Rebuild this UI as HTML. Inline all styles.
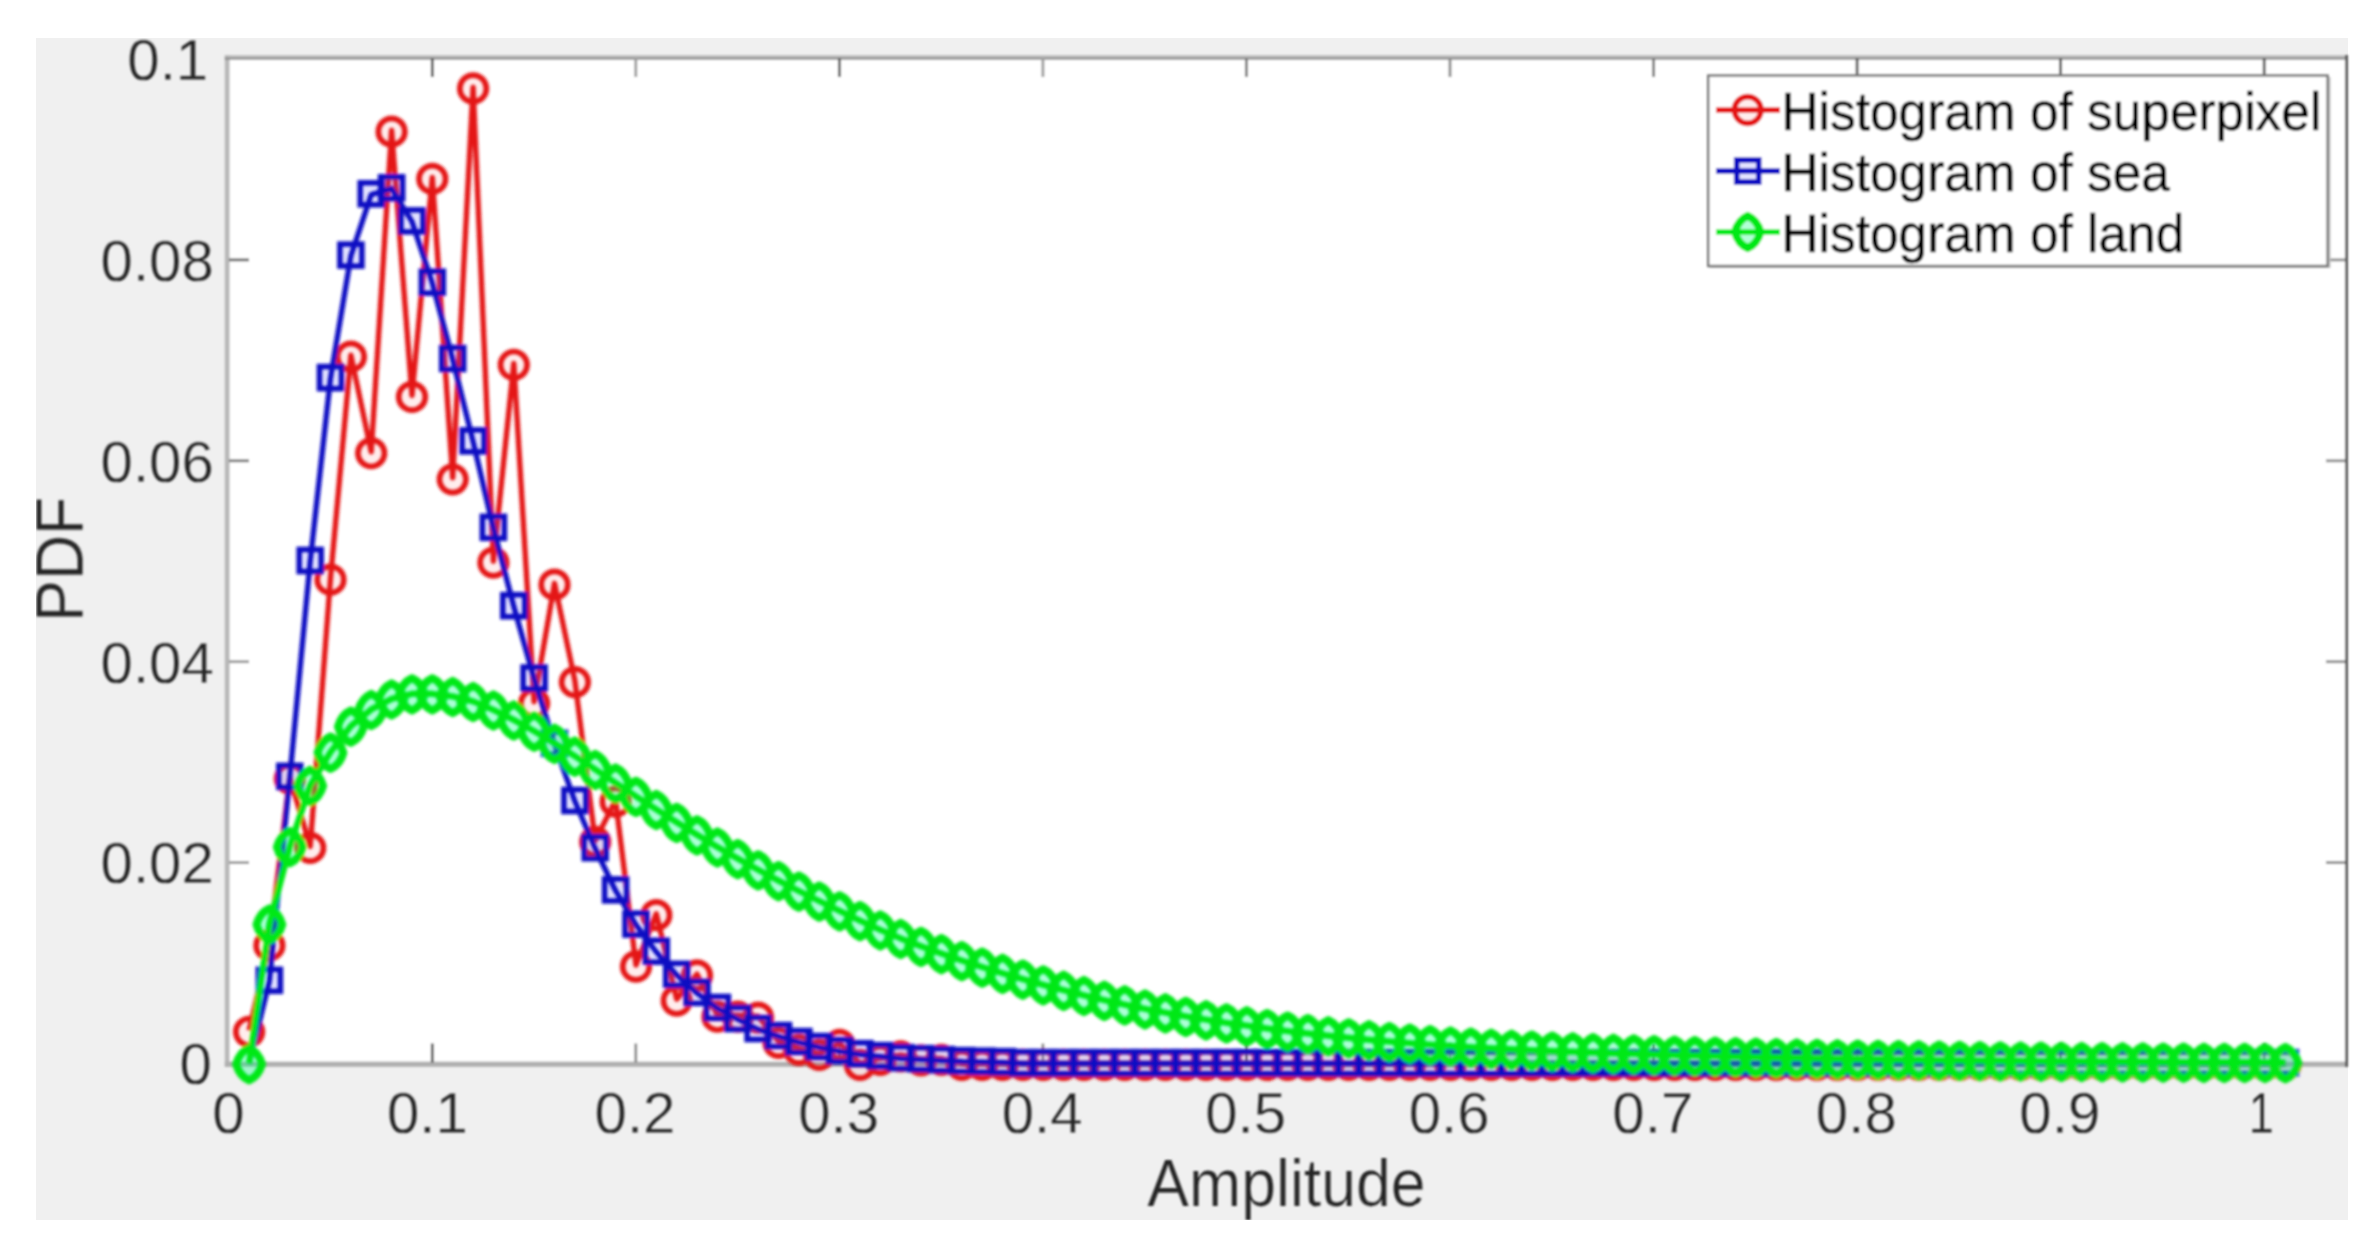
<!DOCTYPE html>
<html><head><meta charset="utf-8"><title>Histogram PDF plot</title>
<style>
html,body{margin:0;padding:0;background:#fff;}
body{width:2374px;height:1250px;overflow:hidden;}
svg{display:block;}
text{font-family:"Liberation Sans",sans-serif;}
.tick{font-size:56.5px;fill:#282828;stroke:#f0f0f0;stroke-width:0.25px;}
.lab{font-size:62.6px;fill:#282828;stroke:#f0f0f0;stroke-width:0.2px;}
.leg{font-size:51.4px;fill:#000;stroke:#000;stroke-width:0.5px;}
</style></head><body>
<svg width="2374" height="1250" viewBox="0 0 2374 1250">
<defs><filter id="soft" x="-2%" y="-2%" width="104%" height="104%"><feGaussianBlur stdDeviation="1.0"/></filter>
<filter id="soft2" x="-2%" y="-2%" width="104%" height="104%"><feGaussianBlur stdDeviation="1.7"/></filter>
<clipPath id="figclip"><rect x="36" y="38" width="2312" height="1182"/></clipPath></defs>
<rect x="0" y="0" width="2374" height="1250" fill="#ffffff"/>
<rect x="36" y="38" width="2312" height="1182" fill="#f0f0f0"/>
<g filter="url(#soft)">
<rect x="229" y="59" width="2118" height="1004" fill="#ffffff"/>

<rect x="224.8" y="55" width="4.8" height="1012" fill="#b8b8b8"/>
<rect x="224.8" y="1061.6" width="2123" height="5.2" fill="#b0b0b0"/>
<rect x="224.8" y="55.2" width="2123" height="2.4" fill="#bcbcbc"/>
<rect x="224.8" y="57.5" width="2123" height="2.2" fill="#8a8a8a"/>
<rect x="2345" y="55" width="3" height="1012" fill="#5c5c5c"/>
<rect x="430.9" y="58" width="2.8" height="19" fill="#555"/>
<rect x="430.9" y="1043.5" width="2.8" height="19" fill="#555"/>
<rect x="634.4" y="58" width="2.8" height="19" fill="#9a9a9a"/>
<rect x="634.4" y="1043.5" width="2.8" height="19" fill="#8a8a8a"/>
<rect x="838.0" y="58" width="2.8" height="19" fill="#5a5a5a"/>
<rect x="838.0" y="1043.5" width="2.8" height="19" fill="#555"/>
<rect x="1041.5" y="58" width="2.8" height="19" fill="#9a9a9a"/>
<rect x="1041.5" y="1043.5" width="2.8" height="19" fill="#8a8a8a"/>
<rect x="1245.0" y="58" width="2.8" height="19" fill="#777"/>
<rect x="1245.0" y="1043.5" width="2.8" height="19" fill="#555"/>
<rect x="1448.6" y="58" width="2.8" height="19" fill="#888"/>
<rect x="1448.6" y="1043.5" width="2.8" height="19" fill="#8a8a8a"/>
<rect x="1652.2" y="58" width="2.8" height="19" fill="#777"/>
<rect x="1652.2" y="1043.5" width="2.8" height="19" fill="#555"/>
<rect x="1855.7" y="58" width="2.8" height="19" fill="#555"/>
<rect x="1855.7" y="1043.5" width="2.8" height="19" fill="#8a8a8a"/>
<rect x="2059.2" y="58" width="2.8" height="19" fill="#555"/>
<rect x="2059.2" y="1043.5" width="2.8" height="19" fill="#555"/>
<rect x="2262.8" y="58" width="2.8" height="19" fill="#555"/>
<rect x="2262.8" y="1043.5" width="2.8" height="19" fill="#8a8a8a"/>
<rect x="229" y="861.2" width="20" height="2.8" fill="#999"/>
<rect x="2326" y="861.2" width="19" height="2.8" fill="#8c8c8c"/>
<rect x="229" y="660.3" width="20" height="2.8" fill="#999"/>
<rect x="2326" y="660.3" width="19" height="2.8" fill="#8c8c8c"/>
<rect x="229" y="459.4" width="20" height="2.8" fill="#777"/>
<rect x="2326" y="459.4" width="19" height="2.8" fill="#8c8c8c"/>
<rect x="229" y="258.5" width="20" height="2.8" fill="#666"/>
<rect x="2326" y="258.5" width="19" height="2.8" fill="#8c8c8c"/>
</g>
<g filter="url(#soft2)" clip-path="url(#figclip)">
<circle cx="249.1" cy="1031.8" r="13.3" fill="#ff5050" fill-opacity="0.10" stroke="#e41616" stroke-width="5.7"/>
<circle cx="269.4" cy="945.4" r="13.3" fill="#ff5050" fill-opacity="0.10" stroke="#e41616" stroke-width="5.7"/>
<circle cx="289.8" cy="778.6" r="13.3" fill="#ff5050" fill-opacity="0.10" stroke="#e41616" stroke-width="5.7"/>
<circle cx="310.2" cy="847.9" r="13.3" fill="#ff5050" fill-opacity="0.10" stroke="#e41616" stroke-width="5.7"/>
<circle cx="330.5" cy="579.7" r="13.3" fill="#ff5050" fill-opacity="0.10" stroke="#e41616" stroke-width="5.7"/>
<circle cx="350.9" cy="356.7" r="13.3" fill="#ff5050" fill-opacity="0.10" stroke="#e41616" stroke-width="5.7"/>
<circle cx="371.2" cy="453.2" r="13.3" fill="#ff5050" fill-opacity="0.10" stroke="#e41616" stroke-width="5.7"/>
<circle cx="391.6" cy="131.7" r="13.3" fill="#ff5050" fill-opacity="0.10" stroke="#e41616" stroke-width="5.7"/>
<circle cx="412.0" cy="396.9" r="13.3" fill="#ff5050" fill-opacity="0.10" stroke="#e41616" stroke-width="5.7"/>
<circle cx="432.3" cy="178.9" r="13.3" fill="#ff5050" fill-opacity="0.10" stroke="#e41616" stroke-width="5.7"/>
<circle cx="452.7" cy="479.3" r="13.3" fill="#ff5050" fill-opacity="0.10" stroke="#e41616" stroke-width="5.7"/>
<circle cx="473.1" cy="88.5" r="13.3" fill="#ff5050" fill-opacity="0.10" stroke="#e41616" stroke-width="5.7"/>
<circle cx="493.4" cy="562.6" r="13.3" fill="#ff5050" fill-opacity="0.10" stroke="#e41616" stroke-width="5.7"/>
<circle cx="513.8" cy="364.8" r="13.3" fill="#ff5050" fill-opacity="0.10" stroke="#e41616" stroke-width="5.7"/>
<circle cx="534.1" cy="703.3" r="13.3" fill="#ff5050" fill-opacity="0.10" stroke="#e41616" stroke-width="5.7"/>
<circle cx="554.5" cy="584.7" r="13.3" fill="#ff5050" fill-opacity="0.10" stroke="#e41616" stroke-width="5.7"/>
<circle cx="574.9" cy="682.2" r="13.3" fill="#ff5050" fill-opacity="0.10" stroke="#e41616" stroke-width="5.7"/>
<circle cx="595.2" cy="841.9" r="13.3" fill="#ff5050" fill-opacity="0.10" stroke="#e41616" stroke-width="5.7"/>
<circle cx="615.6" cy="801.7" r="13.3" fill="#ff5050" fill-opacity="0.10" stroke="#e41616" stroke-width="5.7"/>
<circle cx="636.0" cy="966.5" r="13.3" fill="#ff5050" fill-opacity="0.10" stroke="#e41616" stroke-width="5.7"/>
<circle cx="656.3" cy="915.2" r="13.3" fill="#ff5050" fill-opacity="0.10" stroke="#e41616" stroke-width="5.7"/>
<circle cx="676.7" cy="1000.6" r="13.3" fill="#ff5050" fill-opacity="0.10" stroke="#e41616" stroke-width="5.7"/>
<circle cx="697.0" cy="975.5" r="13.3" fill="#ff5050" fill-opacity="0.10" stroke="#e41616" stroke-width="5.7"/>
<circle cx="717.4" cy="1016.7" r="13.3" fill="#ff5050" fill-opacity="0.10" stroke="#e41616" stroke-width="5.7"/>
<circle cx="737.8" cy="1016.7" r="13.3" fill="#ff5050" fill-opacity="0.10" stroke="#e41616" stroke-width="5.7"/>
<circle cx="758.1" cy="1017.7" r="13.3" fill="#ff5050" fill-opacity="0.10" stroke="#e41616" stroke-width="5.7"/>
<circle cx="778.5" cy="1042.8" r="13.3" fill="#ff5050" fill-opacity="0.10" stroke="#e41616" stroke-width="5.7"/>
<circle cx="798.9" cy="1049.8" r="13.3" fill="#ff5050" fill-opacity="0.10" stroke="#e41616" stroke-width="5.7"/>
<circle cx="819.2" cy="1054.9" r="13.3" fill="#ff5050" fill-opacity="0.10" stroke="#e41616" stroke-width="5.7"/>
<circle cx="839.6" cy="1044.8" r="13.3" fill="#ff5050" fill-opacity="0.10" stroke="#e41616" stroke-width="5.7"/>
<circle cx="860.0" cy="1064.9" r="13.3" fill="#ff5050" fill-opacity="0.10" stroke="#e41616" stroke-width="5.7"/>
<circle cx="880.3" cy="1059.9" r="13.3" fill="#ff5050" fill-opacity="0.10" stroke="#e41616" stroke-width="5.7"/>
<circle cx="900.7" cy="1056.4" r="13.3" fill="#ff5050" fill-opacity="0.10" stroke="#e41616" stroke-width="5.7"/>
<circle cx="921.0" cy="1060.4" r="13.3" fill="#ff5050" fill-opacity="0.10" stroke="#e41616" stroke-width="5.7"/>
<circle cx="941.4" cy="1059.9" r="13.3" fill="#ff5050" fill-opacity="0.10" stroke="#e41616" stroke-width="5.7"/>
<circle cx="961.8" cy="1064.9" r="13.3" fill="#ff5050" fill-opacity="0.10" stroke="#e41616" stroke-width="5.7"/>
<circle cx="982.1" cy="1064.9" r="13.3" fill="#ff5050" fill-opacity="0.10" stroke="#e41616" stroke-width="5.7"/>
<circle cx="1002.5" cy="1064.9" r="13.3" fill="#ff5050" fill-opacity="0.10" stroke="#e41616" stroke-width="5.7"/>
<circle cx="1022.9" cy="1064.9" r="13.3" fill="#ff5050" fill-opacity="0.10" stroke="#e41616" stroke-width="5.7"/>
<circle cx="1043.2" cy="1064.9" r="13.3" fill="#ff5050" fill-opacity="0.10" stroke="#e41616" stroke-width="5.7"/>
<circle cx="1063.6" cy="1064.9" r="13.3" fill="#ff5050" fill-opacity="0.10" stroke="#e41616" stroke-width="5.7"/>
<circle cx="1083.9" cy="1064.9" r="13.3" fill="#ff5050" fill-opacity="0.10" stroke="#e41616" stroke-width="5.7"/>
<circle cx="1104.3" cy="1064.9" r="13.3" fill="#ff5050" fill-opacity="0.10" stroke="#e41616" stroke-width="5.7"/>
<circle cx="1124.7" cy="1064.9" r="13.3" fill="#ff5050" fill-opacity="0.10" stroke="#e41616" stroke-width="5.7"/>
<circle cx="1145.0" cy="1064.9" r="13.3" fill="#ff5050" fill-opacity="0.10" stroke="#e41616" stroke-width="5.7"/>
<circle cx="1165.4" cy="1064.9" r="13.3" fill="#ff5050" fill-opacity="0.10" stroke="#e41616" stroke-width="5.7"/>
<circle cx="1185.8" cy="1064.9" r="13.3" fill="#ff5050" fill-opacity="0.10" stroke="#e41616" stroke-width="5.7"/>
<circle cx="1206.1" cy="1064.9" r="13.3" fill="#ff5050" fill-opacity="0.10" stroke="#e41616" stroke-width="5.7"/>
<circle cx="1226.5" cy="1064.9" r="13.3" fill="#ff5050" fill-opacity="0.10" stroke="#e41616" stroke-width="5.7"/>
<circle cx="1246.8" cy="1064.9" r="13.3" fill="#ff5050" fill-opacity="0.10" stroke="#e41616" stroke-width="5.7"/>
<circle cx="1267.2" cy="1064.9" r="13.3" fill="#ff5050" fill-opacity="0.10" stroke="#e41616" stroke-width="5.7"/>
<circle cx="1287.6" cy="1064.9" r="13.3" fill="#ff5050" fill-opacity="0.10" stroke="#e41616" stroke-width="5.7"/>
<circle cx="1307.9" cy="1064.9" r="13.3" fill="#ff5050" fill-opacity="0.10" stroke="#e41616" stroke-width="5.7"/>
<circle cx="1328.3" cy="1064.9" r="13.3" fill="#ff5050" fill-opacity="0.10" stroke="#e41616" stroke-width="5.7"/>
<circle cx="1348.7" cy="1064.9" r="13.3" fill="#ff5050" fill-opacity="0.10" stroke="#e41616" stroke-width="5.7"/>
<circle cx="1369.0" cy="1064.9" r="13.3" fill="#ff5050" fill-opacity="0.10" stroke="#e41616" stroke-width="5.7"/>
<circle cx="1389.4" cy="1064.9" r="13.3" fill="#ff5050" fill-opacity="0.10" stroke="#e41616" stroke-width="5.7"/>
<circle cx="1409.8" cy="1064.9" r="13.3" fill="#ff5050" fill-opacity="0.10" stroke="#e41616" stroke-width="5.7"/>
<circle cx="1430.1" cy="1064.9" r="13.3" fill="#ff5050" fill-opacity="0.10" stroke="#e41616" stroke-width="5.7"/>
<circle cx="1450.5" cy="1064.9" r="13.3" fill="#ff5050" fill-opacity="0.10" stroke="#e41616" stroke-width="5.7"/>
<circle cx="1470.8" cy="1064.9" r="13.3" fill="#ff5050" fill-opacity="0.10" stroke="#e41616" stroke-width="5.7"/>
<circle cx="1491.2" cy="1064.9" r="13.3" fill="#ff5050" fill-opacity="0.10" stroke="#e41616" stroke-width="5.7"/>
<circle cx="1511.6" cy="1064.9" r="13.3" fill="#ff5050" fill-opacity="0.10" stroke="#e41616" stroke-width="5.7"/>
<circle cx="1531.9" cy="1064.9" r="13.3" fill="#ff5050" fill-opacity="0.10" stroke="#e41616" stroke-width="5.7"/>
<circle cx="1552.3" cy="1064.9" r="13.3" fill="#ff5050" fill-opacity="0.10" stroke="#e41616" stroke-width="5.7"/>
<circle cx="1572.7" cy="1064.9" r="13.3" fill="#ff5050" fill-opacity="0.10" stroke="#e41616" stroke-width="5.7"/>
<circle cx="1593.0" cy="1064.9" r="13.3" fill="#ff5050" fill-opacity="0.10" stroke="#e41616" stroke-width="5.7"/>
<circle cx="1613.4" cy="1064.9" r="13.3" fill="#ff5050" fill-opacity="0.10" stroke="#e41616" stroke-width="5.7"/>
<circle cx="1633.7" cy="1064.9" r="13.3" fill="#ff5050" fill-opacity="0.10" stroke="#e41616" stroke-width="5.7"/>
<circle cx="1654.1" cy="1064.9" r="13.3" fill="#ff5050" fill-opacity="0.10" stroke="#e41616" stroke-width="5.7"/>
<circle cx="1674.5" cy="1064.9" r="13.3" fill="#ff5050" fill-opacity="0.10" stroke="#e41616" stroke-width="5.7"/>
<circle cx="1694.8" cy="1064.9" r="13.3" fill="#ff5050" fill-opacity="0.10" stroke="#e41616" stroke-width="5.7"/>
<circle cx="1715.2" cy="1064.9" r="13.3" fill="#ff5050" fill-opacity="0.10" stroke="#e41616" stroke-width="5.7"/>
<circle cx="1735.6" cy="1064.9" r="13.3" fill="#ff5050" fill-opacity="0.10" stroke="#e41616" stroke-width="5.7"/>
<circle cx="1755.9" cy="1064.9" r="13.3" fill="#ff5050" fill-opacity="0.10" stroke="#e41616" stroke-width="5.7"/>
<circle cx="1776.3" cy="1064.9" r="13.3" fill="#ff5050" fill-opacity="0.10" stroke="#e41616" stroke-width="5.7"/>
<circle cx="1796.7" cy="1064.9" r="13.3" fill="#ff5050" fill-opacity="0.10" stroke="#e41616" stroke-width="5.7"/>
<circle cx="1817.0" cy="1064.9" r="13.3" fill="#ff5050" fill-opacity="0.10" stroke="#e41616" stroke-width="5.7"/>
<circle cx="1837.4" cy="1064.9" r="13.3" fill="#ff5050" fill-opacity="0.10" stroke="#e41616" stroke-width="5.7"/>
<circle cx="1857.7" cy="1064.9" r="13.3" fill="#ff5050" fill-opacity="0.10" stroke="#e41616" stroke-width="5.7"/>
<circle cx="1878.1" cy="1064.9" r="13.3" fill="#ff5050" fill-opacity="0.10" stroke="#e41616" stroke-width="5.7"/>
<circle cx="1898.5" cy="1064.9" r="13.3" fill="#ff5050" fill-opacity="0.10" stroke="#e41616" stroke-width="5.7"/>
<circle cx="1918.8" cy="1064.9" r="13.3" fill="#ff5050" fill-opacity="0.10" stroke="#e41616" stroke-width="5.7"/>
<circle cx="1939.2" cy="1064.9" r="13.3" fill="#ff5050" fill-opacity="0.10" stroke="#e41616" stroke-width="5.7"/>
<circle cx="1959.6" cy="1064.9" r="13.3" fill="#ff5050" fill-opacity="0.10" stroke="#e41616" stroke-width="5.7"/>
<circle cx="1979.9" cy="1064.9" r="13.3" fill="#ff5050" fill-opacity="0.10" stroke="#e41616" stroke-width="5.7"/>
<circle cx="2000.3" cy="1064.9" r="13.3" fill="#ff5050" fill-opacity="0.10" stroke="#e41616" stroke-width="5.7"/>
<circle cx="2020.6" cy="1064.9" r="13.3" fill="#ff5050" fill-opacity="0.10" stroke="#e41616" stroke-width="5.7"/>
<circle cx="2041.0" cy="1064.9" r="13.3" fill="#ff5050" fill-opacity="0.10" stroke="#e41616" stroke-width="5.7"/>
<circle cx="2061.4" cy="1064.9" r="13.3" fill="#ff5050" fill-opacity="0.10" stroke="#e41616" stroke-width="5.7"/>
<circle cx="2081.7" cy="1064.9" r="13.3" fill="#ff5050" fill-opacity="0.10" stroke="#e41616" stroke-width="5.7"/>
<circle cx="2102.1" cy="1064.9" r="13.3" fill="#ff5050" fill-opacity="0.10" stroke="#e41616" stroke-width="5.7"/>
<circle cx="2122.5" cy="1064.9" r="13.3" fill="#ff5050" fill-opacity="0.10" stroke="#e41616" stroke-width="5.7"/>
<circle cx="2142.8" cy="1064.9" r="13.3" fill="#ff5050" fill-opacity="0.10" stroke="#e41616" stroke-width="5.7"/>
<circle cx="2163.2" cy="1064.9" r="13.3" fill="#ff5050" fill-opacity="0.10" stroke="#e41616" stroke-width="5.7"/>
<circle cx="2183.5" cy="1064.9" r="13.3" fill="#ff5050" fill-opacity="0.10" stroke="#e41616" stroke-width="5.7"/>
<circle cx="2203.9" cy="1064.9" r="13.3" fill="#ff5050" fill-opacity="0.10" stroke="#e41616" stroke-width="5.7"/>
<circle cx="2224.3" cy="1064.9" r="13.3" fill="#ff5050" fill-opacity="0.10" stroke="#e41616" stroke-width="5.7"/>
<circle cx="2244.6" cy="1064.9" r="13.3" fill="#ff5050" fill-opacity="0.10" stroke="#e41616" stroke-width="5.7"/>
<circle cx="2265.0" cy="1064.9" r="13.3" fill="#ff5050" fill-opacity="0.10" stroke="#e41616" stroke-width="5.7"/>
<circle cx="2285.4" cy="1064.9" r="13.3" fill="#ff5050" fill-opacity="0.10" stroke="#e41616" stroke-width="5.7"/>
<polyline points="249.1,1030.4 269.4,944.0 289.8,777.2 310.2,846.5 330.5,578.3 350.9,355.3 371.2,451.8 391.6,130.3 412.0,395.5 432.3,177.5 452.7,477.9 473.1,87.1 493.4,561.2 513.8,363.4 534.1,701.9 554.5,583.3 574.9,680.8 595.2,840.5 615.6,800.3 636.0,965.1 656.3,913.8 676.7,999.2 697.0,974.1 717.4,1015.3 737.8,1015.3 758.1,1016.3 778.5,1041.4 798.9,1048.4 819.2,1053.5 839.6,1043.4 860.0,1063.5 880.3,1058.5 900.7,1055.0 921.0,1059.0 941.4,1058.5 961.8,1063.5 982.1,1063.5 1002.5,1063.5 1022.9,1063.5 1043.2,1063.5 1063.6,1063.5 1083.9,1063.5 1104.3,1063.5 1124.7,1063.5 1145.0,1063.5 1165.4,1063.5 1185.8,1063.5 1206.1,1063.5 1226.5,1063.5 1246.8,1063.5 1267.2,1063.5 1287.6,1063.5 1307.9,1063.5 1328.3,1063.5 1348.7,1063.5 1369.0,1063.5 1389.4,1063.5 1409.8,1063.5 1430.1,1063.5 1450.5,1063.5 1470.8,1063.5 1491.2,1063.5 1511.6,1063.5 1531.9,1063.5 1552.3,1063.5 1572.7,1063.5 1593.0,1063.5 1613.4,1063.5 1633.7,1063.5 1654.1,1063.5 1674.5,1063.5 1694.8,1063.5 1715.2,1063.5 1735.6,1063.5 1755.9,1063.5 1776.3,1063.5 1796.7,1063.5 1817.0,1063.5 1837.4,1063.5 1857.7,1063.5 1878.1,1063.5 1898.5,1063.5 1918.8,1063.5 1939.2,1063.5 1959.6,1063.5 1979.9,1063.5 2000.3,1063.5 2020.6,1063.5 2041.0,1063.5 2061.4,1063.5 2081.7,1063.5 2102.1,1063.5 2122.5,1063.5 2142.8,1063.5 2163.2,1063.5 2183.5,1063.5 2203.9,1063.5 2224.3,1063.5 2244.6,1063.5 2265.0,1063.5 2285.4,1063.5" fill="none" stroke="#e41616" stroke-width="5.4" stroke-linejoin="round"/>
<rect x="258.4" y="969.3" width="22.0" height="22.0" fill="#5050ff" fill-opacity="0.16" stroke="#0e0ec2" stroke-width="5.6"/>
<rect x="278.8" y="765.4" width="22.0" height="22.0" fill="#5050ff" fill-opacity="0.16" stroke="#0e0ec2" stroke-width="5.6"/>
<rect x="299.2" y="549.5" width="22.0" height="22.0" fill="#5050ff" fill-opacity="0.16" stroke="#0e0ec2" stroke-width="5.6"/>
<rect x="319.5" y="366.6" width="22.0" height="22.0" fill="#5050ff" fill-opacity="0.16" stroke="#0e0ec2" stroke-width="5.6"/>
<rect x="339.9" y="244.1" width="22.0" height="22.0" fill="#5050ff" fill-opacity="0.16" stroke="#0e0ec2" stroke-width="5.6"/>
<rect x="360.2" y="182.8" width="22.0" height="22.0" fill="#5050ff" fill-opacity="0.16" stroke="#0e0ec2" stroke-width="5.6"/>
<rect x="380.6" y="176.8" width="22.0" height="22.0" fill="#5050ff" fill-opacity="0.16" stroke="#0e0ec2" stroke-width="5.6"/>
<rect x="401.0" y="209.9" width="22.0" height="22.0" fill="#5050ff" fill-opacity="0.16" stroke="#0e0ec2" stroke-width="5.6"/>
<rect x="421.3" y="271.2" width="22.0" height="22.0" fill="#5050ff" fill-opacity="0.16" stroke="#0e0ec2" stroke-width="5.6"/>
<rect x="441.7" y="347.5" width="22.0" height="22.0" fill="#5050ff" fill-opacity="0.16" stroke="#0e0ec2" stroke-width="5.6"/>
<rect x="462.1" y="429.9" width="22.0" height="22.0" fill="#5050ff" fill-opacity="0.16" stroke="#0e0ec2" stroke-width="5.6"/>
<rect x="482.4" y="516.3" width="22.0" height="22.0" fill="#5050ff" fill-opacity="0.16" stroke="#0e0ec2" stroke-width="5.6"/>
<rect x="502.8" y="594.7" width="22.0" height="22.0" fill="#5050ff" fill-opacity="0.16" stroke="#0e0ec2" stroke-width="5.6"/>
<rect x="523.1" y="667.0" width="22.0" height="22.0" fill="#5050ff" fill-opacity="0.16" stroke="#0e0ec2" stroke-width="5.6"/>
<rect x="543.5" y="732.3" width="22.0" height="22.0" fill="#5050ff" fill-opacity="0.16" stroke="#0e0ec2" stroke-width="5.6"/>
<rect x="563.9" y="789.5" width="22.0" height="22.0" fill="#5050ff" fill-opacity="0.16" stroke="#0e0ec2" stroke-width="5.6"/>
<rect x="584.2" y="836.7" width="22.0" height="22.0" fill="#5050ff" fill-opacity="0.16" stroke="#0e0ec2" stroke-width="5.6"/>
<rect x="604.6" y="878.9" width="22.0" height="22.0" fill="#5050ff" fill-opacity="0.16" stroke="#0e0ec2" stroke-width="5.6"/>
<rect x="625.0" y="913.1" width="22.0" height="22.0" fill="#5050ff" fill-opacity="0.16" stroke="#0e0ec2" stroke-width="5.6"/>
<rect x="645.3" y="940.2" width="22.0" height="22.0" fill="#5050ff" fill-opacity="0.16" stroke="#0e0ec2" stroke-width="5.6"/>
<rect x="665.7" y="963.3" width="22.0" height="22.0" fill="#5050ff" fill-opacity="0.16" stroke="#0e0ec2" stroke-width="5.6"/>
<rect x="686.0" y="981.4" width="22.0" height="22.0" fill="#5050ff" fill-opacity="0.16" stroke="#0e0ec2" stroke-width="5.6"/>
<rect x="706.4" y="996.5" width="22.0" height="22.0" fill="#5050ff" fill-opacity="0.16" stroke="#0e0ec2" stroke-width="5.6"/>
<rect x="726.8" y="1007.5" width="22.0" height="22.0" fill="#5050ff" fill-opacity="0.16" stroke="#0e0ec2" stroke-width="5.6"/>
<rect x="747.1" y="1017.5" width="22.0" height="22.0" fill="#5050ff" fill-opacity="0.16" stroke="#0e0ec2" stroke-width="5.6"/>
<rect x="767.5" y="1024.6" width="22.0" height="22.0" fill="#5050ff" fill-opacity="0.16" stroke="#0e0ec2" stroke-width="5.6"/>
<rect x="787.9" y="1030.6" width="22.0" height="22.0" fill="#5050ff" fill-opacity="0.16" stroke="#0e0ec2" stroke-width="5.6"/>
<rect x="808.2" y="1035.6" width="22.0" height="22.0" fill="#5050ff" fill-opacity="0.16" stroke="#0e0ec2" stroke-width="5.6"/>
<rect x="828.6" y="1039.6" width="22.0" height="22.0" fill="#5050ff" fill-opacity="0.16" stroke="#0e0ec2" stroke-width="5.6"/>
<rect x="849.0" y="1042.7" width="22.0" height="22.0" fill="#5050ff" fill-opacity="0.16" stroke="#0e0ec2" stroke-width="5.6"/>
<rect x="869.3" y="1044.7" width="22.0" height="22.0" fill="#5050ff" fill-opacity="0.16" stroke="#0e0ec2" stroke-width="5.6"/>
<rect x="889.7" y="1046.7" width="22.0" height="22.0" fill="#5050ff" fill-opacity="0.16" stroke="#0e0ec2" stroke-width="5.6"/>
<rect x="910.0" y="1047.7" width="22.0" height="22.0" fill="#5050ff" fill-opacity="0.16" stroke="#0e0ec2" stroke-width="5.6"/>
<rect x="930.4" y="1048.7" width="22.0" height="22.0" fill="#5050ff" fill-opacity="0.16" stroke="#0e0ec2" stroke-width="5.6"/>
<rect x="950.8" y="1049.7" width="22.0" height="22.0" fill="#5050ff" fill-opacity="0.16" stroke="#0e0ec2" stroke-width="5.6"/>
<rect x="971.1" y="1050.2" width="22.0" height="22.0" fill="#5050ff" fill-opacity="0.16" stroke="#0e0ec2" stroke-width="5.6"/>
<rect x="991.5" y="1050.7" width="22.0" height="22.0" fill="#5050ff" fill-opacity="0.16" stroke="#0e0ec2" stroke-width="5.6"/>
<rect x="1011.9" y="1051.7" width="22.0" height="22.0" fill="#5050ff" fill-opacity="0.16" stroke="#0e0ec2" stroke-width="5.6"/>
<rect x="1032.2" y="1051.7" width="22.0" height="22.0" fill="#5050ff" fill-opacity="0.16" stroke="#0e0ec2" stroke-width="5.6"/>
<rect x="1052.6" y="1051.7" width="22.0" height="22.0" fill="#5050ff" fill-opacity="0.16" stroke="#0e0ec2" stroke-width="5.6"/>
<rect x="1072.9" y="1051.7" width="22.0" height="22.0" fill="#5050ff" fill-opacity="0.16" stroke="#0e0ec2" stroke-width="5.6"/>
<rect x="1093.3" y="1051.7" width="22.0" height="22.0" fill="#5050ff" fill-opacity="0.16" stroke="#0e0ec2" stroke-width="5.6"/>
<rect x="1113.7" y="1051.7" width="22.0" height="22.0" fill="#5050ff" fill-opacity="0.16" stroke="#0e0ec2" stroke-width="5.6"/>
<rect x="1134.0" y="1051.7" width="22.0" height="22.0" fill="#5050ff" fill-opacity="0.16" stroke="#0e0ec2" stroke-width="5.6"/>
<rect x="1154.4" y="1051.7" width="22.0" height="22.0" fill="#5050ff" fill-opacity="0.16" stroke="#0e0ec2" stroke-width="5.6"/>
<rect x="1174.8" y="1051.7" width="22.0" height="22.0" fill="#5050ff" fill-opacity="0.16" stroke="#0e0ec2" stroke-width="5.6"/>
<rect x="1195.1" y="1051.7" width="22.0" height="22.0" fill="#5050ff" fill-opacity="0.16" stroke="#0e0ec2" stroke-width="5.6"/>
<rect x="1215.5" y="1051.7" width="22.0" height="22.0" fill="#5050ff" fill-opacity="0.16" stroke="#0e0ec2" stroke-width="5.6"/>
<rect x="1235.8" y="1051.7" width="22.0" height="22.0" fill="#5050ff" fill-opacity="0.16" stroke="#0e0ec2" stroke-width="5.6"/>
<rect x="1256.2" y="1051.7" width="22.0" height="22.0" fill="#5050ff" fill-opacity="0.16" stroke="#0e0ec2" stroke-width="5.6"/>
<rect x="1276.6" y="1051.7" width="22.0" height="22.0" fill="#5050ff" fill-opacity="0.16" stroke="#0e0ec2" stroke-width="5.6"/>
<rect x="1296.9" y="1051.7" width="22.0" height="22.0" fill="#5050ff" fill-opacity="0.16" stroke="#0e0ec2" stroke-width="5.6"/>
<rect x="1317.3" y="1051.7" width="22.0" height="22.0" fill="#5050ff" fill-opacity="0.16" stroke="#0e0ec2" stroke-width="5.6"/>
<rect x="1337.7" y="1051.7" width="22.0" height="22.0" fill="#5050ff" fill-opacity="0.16" stroke="#0e0ec2" stroke-width="5.6"/>
<rect x="1358.0" y="1051.7" width="22.0" height="22.0" fill="#5050ff" fill-opacity="0.16" stroke="#0e0ec2" stroke-width="5.6"/>
<rect x="1378.4" y="1051.7" width="22.0" height="22.0" fill="#5050ff" fill-opacity="0.16" stroke="#0e0ec2" stroke-width="5.6"/>
<rect x="1398.8" y="1051.7" width="22.0" height="22.0" fill="#5050ff" fill-opacity="0.16" stroke="#0e0ec2" stroke-width="5.6"/>
<rect x="1419.1" y="1051.7" width="22.0" height="22.0" fill="#5050ff" fill-opacity="0.16" stroke="#0e0ec2" stroke-width="5.6"/>
<rect x="1439.5" y="1051.7" width="22.0" height="22.0" fill="#5050ff" fill-opacity="0.16" stroke="#0e0ec2" stroke-width="5.6"/>
<rect x="1459.8" y="1051.7" width="22.0" height="22.0" fill="#5050ff" fill-opacity="0.16" stroke="#0e0ec2" stroke-width="5.6"/>
<rect x="1480.2" y="1051.7" width="22.0" height="22.0" fill="#5050ff" fill-opacity="0.16" stroke="#0e0ec2" stroke-width="5.6"/>
<rect x="1500.6" y="1051.7" width="22.0" height="22.0" fill="#5050ff" fill-opacity="0.16" stroke="#0e0ec2" stroke-width="5.6"/>
<rect x="1520.9" y="1051.7" width="22.0" height="22.0" fill="#5050ff" fill-opacity="0.16" stroke="#0e0ec2" stroke-width="5.6"/>
<rect x="1541.3" y="1051.7" width="22.0" height="22.0" fill="#5050ff" fill-opacity="0.16" stroke="#0e0ec2" stroke-width="5.6"/>
<rect x="1561.7" y="1051.7" width="22.0" height="22.0" fill="#5050ff" fill-opacity="0.16" stroke="#0e0ec2" stroke-width="5.6"/>
<rect x="1582.0" y="1051.7" width="22.0" height="22.0" fill="#5050ff" fill-opacity="0.16" stroke="#0e0ec2" stroke-width="5.6"/>
<rect x="1602.4" y="1051.7" width="22.0" height="22.0" fill="#5050ff" fill-opacity="0.16" stroke="#0e0ec2" stroke-width="5.6"/>
<rect x="1622.7" y="1051.7" width="22.0" height="22.0" fill="#5050ff" fill-opacity="0.16" stroke="#0e0ec2" stroke-width="5.6"/>
<rect x="1643.1" y="1051.7" width="22.0" height="22.0" fill="#5050ff" fill-opacity="0.16" stroke="#0e0ec2" stroke-width="5.6"/>
<rect x="1663.5" y="1051.7" width="22.0" height="22.0" fill="#5050ff" fill-opacity="0.16" stroke="#0e0ec2" stroke-width="5.6"/>
<rect x="1683.8" y="1051.7" width="22.0" height="22.0" fill="#5050ff" fill-opacity="0.16" stroke="#0e0ec2" stroke-width="5.6"/>
<rect x="1704.2" y="1051.7" width="22.0" height="22.0" fill="#5050ff" fill-opacity="0.16" stroke="#0e0ec2" stroke-width="5.6"/>
<rect x="1724.6" y="1051.7" width="22.0" height="22.0" fill="#5050ff" fill-opacity="0.16" stroke="#0e0ec2" stroke-width="5.6"/>
<rect x="1744.9" y="1051.7" width="22.0" height="22.0" fill="#5050ff" fill-opacity="0.16" stroke="#0e0ec2" stroke-width="5.6"/>
<rect x="1765.3" y="1051.7" width="22.0" height="22.0" fill="#5050ff" fill-opacity="0.16" stroke="#0e0ec2" stroke-width="5.6"/>
<rect x="1785.7" y="1051.7" width="22.0" height="22.0" fill="#5050ff" fill-opacity="0.16" stroke="#0e0ec2" stroke-width="5.6"/>
<rect x="1806.0" y="1051.7" width="22.0" height="22.0" fill="#5050ff" fill-opacity="0.16" stroke="#0e0ec2" stroke-width="5.6"/>
<rect x="1826.4" y="1051.7" width="22.0" height="22.0" fill="#5050ff" fill-opacity="0.16" stroke="#0e0ec2" stroke-width="5.6"/>
<rect x="1846.7" y="1051.7" width="22.0" height="22.0" fill="#5050ff" fill-opacity="0.16" stroke="#0e0ec2" stroke-width="5.6"/>
<rect x="1867.1" y="1051.7" width="22.0" height="22.0" fill="#5050ff" fill-opacity="0.16" stroke="#0e0ec2" stroke-width="5.6"/>
<rect x="1887.5" y="1051.7" width="22.0" height="22.0" fill="#5050ff" fill-opacity="0.16" stroke="#0e0ec2" stroke-width="5.6"/>
<rect x="1907.8" y="1051.7" width="22.0" height="22.0" fill="#5050ff" fill-opacity="0.16" stroke="#0e0ec2" stroke-width="5.6"/>
<rect x="1928.2" y="1051.7" width="22.0" height="22.0" fill="#5050ff" fill-opacity="0.16" stroke="#0e0ec2" stroke-width="5.6"/>
<rect x="1948.6" y="1051.7" width="22.0" height="22.0" fill="#5050ff" fill-opacity="0.16" stroke="#0e0ec2" stroke-width="5.6"/>
<rect x="1968.9" y="1051.7" width="22.0" height="22.0" fill="#5050ff" fill-opacity="0.16" stroke="#0e0ec2" stroke-width="5.6"/>
<rect x="1989.3" y="1051.7" width="22.0" height="22.0" fill="#5050ff" fill-opacity="0.16" stroke="#0e0ec2" stroke-width="5.6"/>
<rect x="2009.6" y="1051.7" width="22.0" height="22.0" fill="#5050ff" fill-opacity="0.16" stroke="#0e0ec2" stroke-width="5.6"/>
<rect x="2030.0" y="1051.7" width="22.0" height="22.0" fill="#5050ff" fill-opacity="0.16" stroke="#0e0ec2" stroke-width="5.6"/>
<rect x="2050.4" y="1051.7" width="22.0" height="22.0" fill="#5050ff" fill-opacity="0.16" stroke="#0e0ec2" stroke-width="5.6"/>
<rect x="2070.7" y="1051.7" width="22.0" height="22.0" fill="#5050ff" fill-opacity="0.16" stroke="#0e0ec2" stroke-width="5.6"/>
<rect x="2091.1" y="1051.7" width="22.0" height="22.0" fill="#5050ff" fill-opacity="0.16" stroke="#0e0ec2" stroke-width="5.6"/>
<rect x="2111.5" y="1051.7" width="22.0" height="22.0" fill="#5050ff" fill-opacity="0.16" stroke="#0e0ec2" stroke-width="5.6"/>
<rect x="2131.8" y="1051.7" width="22.0" height="22.0" fill="#5050ff" fill-opacity="0.16" stroke="#0e0ec2" stroke-width="5.6"/>
<rect x="2152.2" y="1051.7" width="22.0" height="22.0" fill="#5050ff" fill-opacity="0.16" stroke="#0e0ec2" stroke-width="5.6"/>
<rect x="2172.5" y="1051.7" width="22.0" height="22.0" fill="#5050ff" fill-opacity="0.16" stroke="#0e0ec2" stroke-width="5.6"/>
<rect x="2192.9" y="1051.7" width="22.0" height="22.0" fill="#5050ff" fill-opacity="0.16" stroke="#0e0ec2" stroke-width="5.6"/>
<rect x="2213.3" y="1051.7" width="22.0" height="22.0" fill="#5050ff" fill-opacity="0.16" stroke="#0e0ec2" stroke-width="5.6"/>
<rect x="2233.6" y="1051.7" width="22.0" height="22.0" fill="#5050ff" fill-opacity="0.16" stroke="#0e0ec2" stroke-width="5.6"/>
<rect x="2254.0" y="1051.7" width="22.0" height="22.0" fill="#5050ff" fill-opacity="0.16" stroke="#0e0ec2" stroke-width="5.6"/>
<rect x="2274.4" y="1051.7" width="22.0" height="22.0" fill="#5050ff" fill-opacity="0.16" stroke="#0e0ec2" stroke-width="5.6"/>
<polyline points="249.1,1063.5 269.4,981.1 289.8,777.2 310.2,561.2 330.5,378.4 350.9,255.9 371.2,194.6 391.6,188.6 412.0,221.7 432.3,283.0 452.7,359.3 473.1,441.7 493.4,528.1 513.8,606.5 534.1,678.8 554.5,744.1 574.9,801.3 595.2,848.5 615.6,890.7 636.0,924.9 656.3,952.0 676.7,975.1 697.0,993.2 717.4,1008.3 737.8,1019.3 758.1,1029.3 778.5,1036.4 798.9,1042.4 819.2,1047.4 839.6,1051.4 860.0,1054.5 880.3,1056.5 900.7,1058.5 921.0,1059.5 941.4,1060.5 961.8,1061.5 982.1,1062.0 1002.5,1062.5 1022.9,1063.5 1043.2,1063.5 1063.6,1063.5 1083.9,1063.5 1104.3,1063.5 1124.7,1063.5 1145.0,1063.5 1165.4,1063.5 1185.8,1063.5 1206.1,1063.5 1226.5,1063.5 1246.8,1063.5 1267.2,1063.5 1287.6,1063.5 1307.9,1063.5 1328.3,1063.5 1348.7,1063.5 1369.0,1063.5 1389.4,1063.5 1409.8,1063.5 1430.1,1063.5 1450.5,1063.5 1470.8,1063.5 1491.2,1063.5 1511.6,1063.5 1531.9,1063.5 1552.3,1063.5 1572.7,1063.5 1593.0,1063.5 1613.4,1063.5 1633.7,1063.5 1654.1,1063.5 1674.5,1063.5 1694.8,1063.5 1715.2,1063.5 1735.6,1063.5 1755.9,1063.5 1776.3,1063.5 1796.7,1063.5 1817.0,1063.5 1837.4,1063.5 1857.7,1063.5 1878.1,1063.5 1898.5,1063.5 1918.8,1063.5 1939.2,1063.5 1959.6,1063.5 1979.9,1063.5 2000.3,1063.5 2020.6,1063.5 2041.0,1063.5 2061.4,1063.5 2081.7,1063.5 2102.1,1063.5 2122.5,1063.5 2142.8,1063.5 2163.2,1063.5 2183.5,1063.5 2203.9,1063.5 2224.3,1063.5 2244.6,1063.5 2265.0,1063.5 2285.4,1063.5" fill="none" stroke="#0e0ec2" stroke-width="5.4" stroke-linejoin="round"/>
<path d="M249.1 1047.9Q258.6 1052.1 262.0 1064.1Q258.6 1076.1 249.1 1080.3Q239.5 1076.1 236.2 1064.1Q239.5 1052.1 249.1 1047.9Z" fill="#10ff80" fill-opacity="0.32" stroke="#00e818" stroke-width="8.0" stroke-linejoin="round"/>
<path d="M269.4 908.3Q279.0 912.5 282.3 924.5Q279.0 936.5 269.4 940.7Q259.9 936.5 256.5 924.5Q259.9 912.5 269.4 908.3Z" fill="#10ff80" fill-opacity="0.32" stroke="#00e818" stroke-width="8.0" stroke-linejoin="round"/>
<path d="M289.8 830.9Q299.3 835.1 302.7 847.1Q299.3 859.1 289.8 863.3Q280.2 859.1 276.9 847.1Q280.2 835.1 289.8 830.9Z" fill="#10ff80" fill-opacity="0.32" stroke="#00e818" stroke-width="8.0" stroke-linejoin="round"/>
<path d="M310.2 769.7Q319.7 773.9 323.1 785.9Q319.7 797.8 310.2 802.1Q300.6 797.8 297.3 785.9Q300.6 773.9 310.2 769.7Z" fill="#10ff80" fill-opacity="0.32" stroke="#00e818" stroke-width="8.0" stroke-linejoin="round"/>
<path d="M330.5 736.5Q340.1 740.7 343.4 752.7Q340.1 764.7 330.5 768.9Q321.0 764.7 317.6 752.7Q321.0 740.7 330.5 736.5Z" fill="#10ff80" fill-opacity="0.32" stroke="#00e818" stroke-width="8.0" stroke-linejoin="round"/>
<path d="M350.9 710.4Q360.4 714.6 363.8 726.6Q360.4 738.6 350.9 742.8Q341.3 738.6 338.0 726.6Q341.3 714.6 350.9 710.4Z" fill="#10ff80" fill-opacity="0.32" stroke="#00e818" stroke-width="8.0" stroke-linejoin="round"/>
<path d="M371.2 693.8Q380.8 698.0 384.1 710.0Q380.8 722.0 371.2 726.2Q361.7 722.0 358.3 710.0Q361.7 698.0 371.2 693.8Z" fill="#10ff80" fill-opacity="0.32" stroke="#00e818" stroke-width="8.0" stroke-linejoin="round"/>
<path d="M391.6 683.3Q401.1 687.5 404.5 699.5Q401.1 711.5 391.6 715.7Q382.1 711.5 378.7 699.5Q382.1 687.5 391.6 683.3Z" fill="#10ff80" fill-opacity="0.32" stroke="#00e818" stroke-width="8.0" stroke-linejoin="round"/>
<path d="M412.0 678.2Q421.5 682.5 424.9 694.4Q421.5 706.4 412.0 710.6Q402.4 706.4 399.1 694.4Q402.4 682.5 412.0 678.2Z" fill="#10ff80" fill-opacity="0.32" stroke="#00e818" stroke-width="8.0" stroke-linejoin="round"/>
<path d="M432.3 678.2Q441.9 682.5 445.2 694.4Q441.9 706.4 432.3 710.6Q422.8 706.4 419.4 694.4Q422.8 682.5 432.3 678.2Z" fill="#10ff80" fill-opacity="0.32" stroke="#00e818" stroke-width="8.0" stroke-linejoin="round"/>
<path d="M452.7 680.8Q462.2 685.0 465.6 697.0Q462.2 708.9 452.7 713.2Q443.1 708.9 439.8 697.0Q443.1 685.0 452.7 680.8Z" fill="#10ff80" fill-opacity="0.32" stroke="#00e818" stroke-width="8.0" stroke-linejoin="round"/>
<path d="M473.1 685.8Q482.6 690.0 486.0 702.0Q482.6 714.0 473.1 718.2Q463.5 714.0 460.2 702.0Q463.5 690.0 473.1 685.8Z" fill="#10ff80" fill-opacity="0.32" stroke="#00e818" stroke-width="8.0" stroke-linejoin="round"/>
<path d="M493.4 694.3Q503.0 698.5 506.3 710.5Q503.0 722.5 493.4 726.7Q483.9 722.5 480.5 710.5Q483.9 698.5 493.4 694.3Z" fill="#10ff80" fill-opacity="0.32" stroke="#00e818" stroke-width="8.0" stroke-linejoin="round"/>
<path d="M513.8 704.3Q523.3 708.6 526.7 720.5Q523.3 732.5 513.8 736.7Q504.2 732.5 500.9 720.5Q504.2 708.6 513.8 704.3Z" fill="#10ff80" fill-opacity="0.32" stroke="#00e818" stroke-width="8.0" stroke-linejoin="round"/>
<path d="M534.1 715.4Q543.7 719.6 547.0 731.6Q543.7 743.6 534.1 747.8Q524.6 743.6 521.2 731.6Q524.6 719.6 534.1 715.4Z" fill="#10ff80" fill-opacity="0.32" stroke="#00e818" stroke-width="8.0" stroke-linejoin="round"/>
<path d="M554.5 727.6Q564.1 731.8 567.4 743.8Q564.1 755.8 554.5 760.0Q545.0 755.8 541.6 743.8Q545.0 731.8 554.5 727.6Z" fill="#10ff80" fill-opacity="0.32" stroke="#00e818" stroke-width="8.0" stroke-linejoin="round"/>
<path d="M574.9 740.5Q584.4 744.7 587.8 756.7Q584.4 768.7 574.9 772.9Q565.3 768.7 562.0 756.7Q565.3 744.7 574.9 740.5Z" fill="#10ff80" fill-opacity="0.32" stroke="#00e818" stroke-width="8.0" stroke-linejoin="round"/>
<path d="M595.2 753.8Q604.8 758.0 608.1 770.0Q604.8 782.0 595.2 786.2Q585.7 782.0 582.3 770.0Q585.7 758.0 595.2 753.8Z" fill="#10ff80" fill-opacity="0.32" stroke="#00e818" stroke-width="8.0" stroke-linejoin="round"/>
<path d="M615.6 767.3Q625.1 771.5 628.5 783.5Q625.1 795.5 615.6 799.7Q606.1 795.5 602.7 783.5Q606.1 771.5 615.6 767.3Z" fill="#10ff80" fill-opacity="0.32" stroke="#00e818" stroke-width="8.0" stroke-linejoin="round"/>
<path d="M636.0 780.7Q645.5 784.9 648.9 796.9Q645.5 808.9 636.0 813.1Q626.4 808.9 623.1 796.9Q626.4 784.9 636.0 780.7Z" fill="#10ff80" fill-opacity="0.32" stroke="#00e818" stroke-width="8.0" stroke-linejoin="round"/>
<path d="M656.3 793.8Q665.9 798.0 669.2 810.0Q665.9 822.0 656.3 826.2Q646.8 822.0 643.4 810.0Q646.8 798.0 656.3 793.8Z" fill="#10ff80" fill-opacity="0.32" stroke="#00e818" stroke-width="8.0" stroke-linejoin="round"/>
<path d="M676.7 806.7Q686.2 810.9 689.6 822.9Q686.2 834.9 676.7 839.1Q667.1 834.9 663.8 822.9Q667.1 810.9 676.7 806.7Z" fill="#10ff80" fill-opacity="0.32" stroke="#00e818" stroke-width="8.0" stroke-linejoin="round"/>
<path d="M697.0 819.2Q706.6 823.4 709.9 835.4Q706.6 847.4 697.0 851.6Q687.5 847.4 684.1 835.4Q687.5 823.4 697.0 819.2Z" fill="#10ff80" fill-opacity="0.32" stroke="#00e818" stroke-width="8.0" stroke-linejoin="round"/>
<path d="M717.4 831.3Q727.0 835.5 730.3 847.5Q727.0 859.5 717.4 863.7Q707.9 859.5 704.5 847.5Q707.9 835.5 717.4 831.3Z" fill="#10ff80" fill-opacity="0.32" stroke="#00e818" stroke-width="8.0" stroke-linejoin="round"/>
<path d="M737.8 843.0Q747.3 847.2 750.7 859.2Q747.3 871.2 737.8 875.4Q728.2 871.2 724.9 859.2Q728.2 847.2 737.8 843.0Z" fill="#10ff80" fill-opacity="0.32" stroke="#00e818" stroke-width="8.0" stroke-linejoin="round"/>
<path d="M758.1 854.2Q767.7 858.4 771.0 870.4Q767.7 882.4 758.1 886.6Q748.6 882.4 745.2 870.4Q748.6 858.4 758.1 854.2Z" fill="#10ff80" fill-opacity="0.32" stroke="#00e818" stroke-width="8.0" stroke-linejoin="round"/>
<path d="M778.5 865.0Q788.0 869.2 791.4 881.2Q788.0 893.1 778.5 897.4Q769.0 893.1 765.6 881.2Q769.0 869.2 778.5 865.0Z" fill="#10ff80" fill-opacity="0.32" stroke="#00e818" stroke-width="8.0" stroke-linejoin="round"/>
<path d="M798.9 875.4Q808.4 879.6 811.8 891.6Q808.4 903.6 798.9 907.8Q789.3 903.6 786.0 891.6Q789.3 879.6 798.9 875.4Z" fill="#10ff80" fill-opacity="0.32" stroke="#00e818" stroke-width="8.0" stroke-linejoin="round"/>
<path d="M819.2 885.4Q828.8 889.7 832.1 901.6Q828.8 913.6 819.2 917.8Q809.7 913.6 806.3 901.6Q809.7 889.7 819.2 885.4Z" fill="#10ff80" fill-opacity="0.32" stroke="#00e818" stroke-width="8.0" stroke-linejoin="round"/>
<path d="M839.6 895.2Q849.1 899.4 852.5 911.4Q849.1 923.4 839.6 927.6Q830.0 923.4 826.7 911.4Q830.0 899.4 839.6 895.2Z" fill="#10ff80" fill-opacity="0.32" stroke="#00e818" stroke-width="8.0" stroke-linejoin="round"/>
<path d="M860.0 905.0Q869.5 909.2 872.9 921.2Q869.5 933.2 860.0 937.4Q850.4 933.2 847.1 921.2Q850.4 909.2 860.0 905.0Z" fill="#10ff80" fill-opacity="0.32" stroke="#00e818" stroke-width="8.0" stroke-linejoin="round"/>
<path d="M880.3 914.3Q889.9 918.5 893.2 930.5Q889.9 942.5 880.3 946.7Q870.8 942.5 867.4 930.5Q870.8 918.5 880.3 914.3Z" fill="#10ff80" fill-opacity="0.32" stroke="#00e818" stroke-width="8.0" stroke-linejoin="round"/>
<path d="M900.7 922.8Q910.2 927.0 913.6 939.0Q910.2 951.0 900.7 955.2Q891.1 951.0 887.8 939.0Q891.1 927.0 900.7 922.8Z" fill="#10ff80" fill-opacity="0.32" stroke="#00e818" stroke-width="8.0" stroke-linejoin="round"/>
<path d="M921.0 930.7Q930.6 934.9 933.9 946.9Q930.6 958.8 921.0 963.1Q911.5 958.8 908.1 946.9Q911.5 934.9 921.0 930.7Z" fill="#10ff80" fill-opacity="0.32" stroke="#00e818" stroke-width="8.0" stroke-linejoin="round"/>
<path d="M941.4 938.0Q951.0 942.2 954.3 954.2Q951.0 966.2 941.4 970.4Q931.9 966.2 928.5 954.2Q931.9 942.2 941.4 938.0Z" fill="#10ff80" fill-opacity="0.32" stroke="#00e818" stroke-width="8.0" stroke-linejoin="round"/>
<path d="M961.8 944.9Q971.3 949.1 974.7 961.1Q971.3 973.1 961.8 977.3Q952.2 973.1 948.9 961.1Q952.2 949.1 961.8 944.9Z" fill="#10ff80" fill-opacity="0.32" stroke="#00e818" stroke-width="8.0" stroke-linejoin="round"/>
<path d="M982.1 951.4Q991.7 955.6 995.0 967.6Q991.7 979.6 982.1 983.8Q972.6 979.6 969.2 967.6Q972.6 955.6 982.1 951.4Z" fill="#10ff80" fill-opacity="0.32" stroke="#00e818" stroke-width="8.0" stroke-linejoin="round"/>
<path d="M1002.5 957.6Q1012.0 961.8 1015.4 973.8Q1012.0 985.8 1002.5 990.0Q992.9 985.8 989.6 973.8Q992.9 961.8 1002.5 957.6Z" fill="#10ff80" fill-opacity="0.32" stroke="#00e818" stroke-width="8.0" stroke-linejoin="round"/>
<path d="M1022.9 963.5Q1032.4 967.7 1035.8 979.7Q1032.4 991.7 1022.9 995.9Q1013.3 991.7 1010.0 979.7Q1013.3 967.7 1022.9 963.5Z" fill="#10ff80" fill-opacity="0.32" stroke="#00e818" stroke-width="8.0" stroke-linejoin="round"/>
<path d="M1043.2 969.2Q1052.8 973.4 1056.1 985.4Q1052.8 997.4 1043.2 1001.6Q1033.7 997.4 1030.3 985.4Q1033.7 973.4 1043.2 969.2Z" fill="#10ff80" fill-opacity="0.32" stroke="#00e818" stroke-width="8.0" stroke-linejoin="round"/>
<path d="M1063.6 974.6Q1073.1 978.9 1076.5 990.8Q1073.1 1002.8 1063.6 1007.0Q1054.0 1002.8 1050.7 990.8Q1054.0 978.9 1063.6 974.6Z" fill="#10ff80" fill-opacity="0.32" stroke="#00e818" stroke-width="8.0" stroke-linejoin="round"/>
<path d="M1083.9 979.8Q1093.5 984.0 1096.8 996.0Q1093.5 1008.0 1083.9 1012.2Q1074.4 1008.0 1071.0 996.0Q1074.4 984.0 1083.9 979.8Z" fill="#10ff80" fill-opacity="0.32" stroke="#00e818" stroke-width="8.0" stroke-linejoin="round"/>
<path d="M1104.3 984.6Q1113.9 988.8 1117.2 1000.8Q1113.9 1012.8 1104.3 1017.0Q1094.8 1012.8 1091.4 1000.8Q1094.8 988.8 1104.3 984.6Z" fill="#10ff80" fill-opacity="0.32" stroke="#00e818" stroke-width="8.0" stroke-linejoin="round"/>
<path d="M1124.7 989.1Q1134.2 993.3 1137.6 1005.3Q1134.2 1017.3 1124.7 1021.5Q1115.1 1017.3 1111.8 1005.3Q1115.1 993.3 1124.7 989.1Z" fill="#10ff80" fill-opacity="0.32" stroke="#00e818" stroke-width="8.0" stroke-linejoin="round"/>
<path d="M1145.0 993.3Q1154.6 997.5 1157.9 1009.5Q1154.6 1021.4 1145.0 1025.7Q1135.5 1021.4 1132.1 1009.5Q1135.5 997.5 1145.0 993.3Z" fill="#10ff80" fill-opacity="0.32" stroke="#00e818" stroke-width="8.0" stroke-linejoin="round"/>
<path d="M1165.4 997.1Q1174.9 1001.3 1178.3 1013.3Q1174.9 1025.3 1165.4 1029.5Q1155.9 1025.3 1152.5 1013.3Q1155.9 1001.3 1165.4 997.1Z" fill="#10ff80" fill-opacity="0.32" stroke="#00e818" stroke-width="8.0" stroke-linejoin="round"/>
<path d="M1185.8 1000.7Q1195.3 1004.9 1198.7 1016.9Q1195.3 1028.9 1185.8 1033.1Q1176.2 1028.9 1172.9 1016.9Q1176.2 1004.9 1185.8 1000.7Z" fill="#10ff80" fill-opacity="0.32" stroke="#00e818" stroke-width="8.0" stroke-linejoin="round"/>
<path d="M1206.1 1004.1Q1215.7 1008.3 1219.0 1020.3Q1215.7 1032.2 1206.1 1036.5Q1196.6 1032.2 1193.2 1020.3Q1196.6 1008.3 1206.1 1004.1Z" fill="#10ff80" fill-opacity="0.32" stroke="#00e818" stroke-width="8.0" stroke-linejoin="round"/>
<path d="M1226.5 1007.2Q1236.0 1011.4 1239.4 1023.4Q1236.0 1035.4 1226.5 1039.6Q1216.9 1035.4 1213.6 1023.4Q1216.9 1011.4 1226.5 1007.2Z" fill="#10ff80" fill-opacity="0.32" stroke="#00e818" stroke-width="8.0" stroke-linejoin="round"/>
<path d="M1246.8 1010.1Q1256.4 1014.3 1259.8 1026.3Q1256.4 1038.3 1246.8 1042.5Q1237.3 1038.3 1233.9 1026.3Q1237.3 1014.3 1246.8 1010.1Z" fill="#10ff80" fill-opacity="0.32" stroke="#00e818" stroke-width="8.0" stroke-linejoin="round"/>
<path d="M1267.2 1012.9Q1276.8 1017.1 1280.1 1029.1Q1276.8 1041.1 1267.2 1045.3Q1257.7 1041.1 1254.3 1029.1Q1257.7 1017.1 1267.2 1012.9Z" fill="#10ff80" fill-opacity="0.32" stroke="#00e818" stroke-width="8.0" stroke-linejoin="round"/>
<path d="M1287.6 1015.5Q1297.1 1019.7 1300.5 1031.7Q1297.1 1043.7 1287.6 1047.9Q1278.0 1043.7 1274.7 1031.7Q1278.0 1019.7 1287.6 1015.5Z" fill="#10ff80" fill-opacity="0.32" stroke="#00e818" stroke-width="8.0" stroke-linejoin="round"/>
<path d="M1307.9 1017.9Q1317.5 1022.1 1320.8 1034.1Q1317.5 1046.1 1307.9 1050.3Q1298.4 1046.1 1295.0 1034.1Q1298.4 1022.1 1307.9 1017.9Z" fill="#10ff80" fill-opacity="0.32" stroke="#00e818" stroke-width="8.0" stroke-linejoin="round"/>
<path d="M1328.3 1020.1Q1337.8 1024.3 1341.2 1036.3Q1337.8 1048.3 1328.3 1052.5Q1318.8 1048.3 1315.4 1036.3Q1318.8 1024.3 1328.3 1020.1Z" fill="#10ff80" fill-opacity="0.32" stroke="#00e818" stroke-width="8.0" stroke-linejoin="round"/>
<path d="M1348.7 1022.2Q1358.2 1026.4 1361.6 1038.4Q1358.2 1050.4 1348.7 1054.6Q1339.1 1050.4 1335.8 1038.4Q1339.1 1026.4 1348.7 1022.2Z" fill="#10ff80" fill-opacity="0.32" stroke="#00e818" stroke-width="8.0" stroke-linejoin="round"/>
<path d="M1369.0 1024.1Q1378.6 1028.3 1381.9 1040.3Q1378.6 1052.3 1369.0 1056.5Q1359.5 1052.3 1356.1 1040.3Q1359.5 1028.3 1369.0 1024.1Z" fill="#10ff80" fill-opacity="0.32" stroke="#00e818" stroke-width="8.0" stroke-linejoin="round"/>
<path d="M1389.4 1025.9Q1398.9 1030.1 1402.3 1042.1Q1398.9 1054.1 1389.4 1058.3Q1379.8 1054.1 1376.5 1042.1Q1379.8 1030.1 1389.4 1025.9Z" fill="#10ff80" fill-opacity="0.32" stroke="#00e818" stroke-width="8.0" stroke-linejoin="round"/>
<path d="M1409.8 1027.5Q1419.3 1031.7 1422.7 1043.7Q1419.3 1055.7 1409.8 1059.9Q1400.2 1055.7 1396.9 1043.7Q1400.2 1031.7 1409.8 1027.5Z" fill="#10ff80" fill-opacity="0.32" stroke="#00e818" stroke-width="8.0" stroke-linejoin="round"/>
<path d="M1430.1 1029.0Q1439.7 1033.2 1443.0 1045.2Q1439.7 1057.2 1430.1 1061.4Q1420.6 1057.2 1417.2 1045.2Q1420.6 1033.2 1430.1 1029.0Z" fill="#10ff80" fill-opacity="0.32" stroke="#00e818" stroke-width="8.0" stroke-linejoin="round"/>
<path d="M1450.5 1030.3Q1460.0 1034.5 1463.4 1046.5Q1460.0 1058.5 1450.5 1062.7Q1440.9 1058.5 1437.6 1046.5Q1440.9 1034.5 1450.5 1030.3Z" fill="#10ff80" fill-opacity="0.32" stroke="#00e818" stroke-width="8.0" stroke-linejoin="round"/>
<path d="M1470.8 1031.5Q1480.4 1035.7 1483.7 1047.7Q1480.4 1059.7 1470.8 1063.9Q1461.3 1059.7 1457.9 1047.7Q1461.3 1035.7 1470.8 1031.5Z" fill="#10ff80" fill-opacity="0.32" stroke="#00e818" stroke-width="8.0" stroke-linejoin="round"/>
<path d="M1491.2 1032.6Q1500.8 1036.8 1504.1 1048.8Q1500.8 1060.8 1491.2 1065.0Q1481.7 1060.8 1478.3 1048.8Q1481.7 1036.8 1491.2 1032.6Z" fill="#10ff80" fill-opacity="0.32" stroke="#00e818" stroke-width="8.0" stroke-linejoin="round"/>
<path d="M1511.6 1033.6Q1521.1 1037.8 1524.5 1049.8Q1521.1 1061.8 1511.6 1066.0Q1502.0 1061.8 1498.7 1049.8Q1502.0 1037.8 1511.6 1033.6Z" fill="#10ff80" fill-opacity="0.32" stroke="#00e818" stroke-width="8.0" stroke-linejoin="round"/>
<path d="M1531.9 1034.5Q1541.5 1038.7 1544.8 1050.7Q1541.5 1062.7 1531.9 1066.9Q1522.4 1062.7 1519.0 1050.7Q1522.4 1038.7 1531.9 1034.5Z" fill="#10ff80" fill-opacity="0.32" stroke="#00e818" stroke-width="8.0" stroke-linejoin="round"/>
<path d="M1552.3 1035.4Q1561.8 1039.6 1565.2 1051.6Q1561.8 1063.5 1552.3 1067.8Q1542.7 1063.5 1539.4 1051.6Q1542.7 1039.6 1552.3 1035.4Z" fill="#10ff80" fill-opacity="0.32" stroke="#00e818" stroke-width="8.0" stroke-linejoin="round"/>
<path d="M1572.7 1036.1Q1582.2 1040.3 1585.6 1052.3Q1582.2 1064.3 1572.7 1068.5Q1563.1 1064.3 1559.8 1052.3Q1563.1 1040.3 1572.7 1036.1Z" fill="#10ff80" fill-opacity="0.32" stroke="#00e818" stroke-width="8.0" stroke-linejoin="round"/>
<path d="M1593.0 1036.9Q1602.6 1041.1 1605.9 1053.1Q1602.6 1065.1 1593.0 1069.3Q1583.5 1065.1 1580.1 1053.1Q1583.5 1041.1 1593.0 1036.9Z" fill="#10ff80" fill-opacity="0.32" stroke="#00e818" stroke-width="8.0" stroke-linejoin="round"/>
<path d="M1613.4 1037.6Q1622.9 1041.8 1626.3 1053.8Q1622.9 1065.8 1613.4 1070.0Q1603.8 1065.8 1600.5 1053.8Q1603.8 1041.8 1613.4 1037.6Z" fill="#10ff80" fill-opacity="0.32" stroke="#00e818" stroke-width="8.0" stroke-linejoin="round"/>
<path d="M1633.7 1038.2Q1643.3 1042.4 1646.6 1054.4Q1643.3 1066.4 1633.7 1070.6Q1624.2 1066.4 1620.8 1054.4Q1624.2 1042.4 1633.7 1038.2Z" fill="#10ff80" fill-opacity="0.32" stroke="#00e818" stroke-width="8.0" stroke-linejoin="round"/>
<path d="M1654.1 1038.9Q1663.7 1043.1 1667.0 1055.1Q1663.7 1067.0 1654.1 1071.3Q1644.6 1067.0 1641.2 1055.1Q1644.6 1043.1 1654.1 1038.9Z" fill="#10ff80" fill-opacity="0.32" stroke="#00e818" stroke-width="8.0" stroke-linejoin="round"/>
<path d="M1674.5 1039.5Q1684.0 1043.7 1687.4 1055.7Q1684.0 1067.6 1674.5 1071.9Q1664.9 1067.6 1661.6 1055.7Q1664.9 1043.7 1674.5 1039.5Z" fill="#10ff80" fill-opacity="0.32" stroke="#00e818" stroke-width="8.0" stroke-linejoin="round"/>
<path d="M1694.8 1040.0Q1704.4 1044.2 1707.7 1056.2Q1704.4 1068.2 1694.8 1072.4Q1685.3 1068.2 1681.9 1056.2Q1685.3 1044.2 1694.8 1040.0Z" fill="#10ff80" fill-opacity="0.32" stroke="#00e818" stroke-width="8.0" stroke-linejoin="round"/>
<path d="M1715.2 1040.5Q1724.7 1044.7 1728.1 1056.7Q1724.7 1068.7 1715.2 1072.9Q1705.7 1068.7 1702.3 1056.7Q1705.7 1044.7 1715.2 1040.5Z" fill="#10ff80" fill-opacity="0.32" stroke="#00e818" stroke-width="8.0" stroke-linejoin="round"/>
<path d="M1735.6 1041.0Q1745.1 1045.2 1748.5 1057.2Q1745.1 1069.2 1735.6 1073.4Q1726.0 1069.2 1722.7 1057.2Q1726.0 1045.2 1735.6 1041.0Z" fill="#10ff80" fill-opacity="0.32" stroke="#00e818" stroke-width="8.0" stroke-linejoin="round"/>
<path d="M1755.9 1041.5Q1765.5 1045.7 1768.8 1057.7Q1765.5 1069.7 1755.9 1073.9Q1746.4 1069.7 1743.0 1057.7Q1746.4 1045.7 1755.9 1041.5Z" fill="#10ff80" fill-opacity="0.32" stroke="#00e818" stroke-width="8.0" stroke-linejoin="round"/>
<path d="M1776.3 1041.9Q1785.8 1046.1 1789.2 1058.1Q1785.8 1070.1 1776.3 1074.3Q1766.7 1070.1 1763.4 1058.1Q1766.7 1046.1 1776.3 1041.9Z" fill="#10ff80" fill-opacity="0.32" stroke="#00e818" stroke-width="8.0" stroke-linejoin="round"/>
<path d="M1796.7 1042.3Q1806.2 1046.5 1809.6 1058.5Q1806.2 1070.5 1796.7 1074.7Q1787.1 1070.5 1783.8 1058.5Q1787.1 1046.5 1796.7 1042.3Z" fill="#10ff80" fill-opacity="0.32" stroke="#00e818" stroke-width="8.0" stroke-linejoin="round"/>
<path d="M1817.0 1042.7Q1826.6 1046.9 1829.9 1058.9Q1826.6 1070.9 1817.0 1075.1Q1807.5 1070.9 1804.1 1058.9Q1807.5 1046.9 1817.0 1042.7Z" fill="#10ff80" fill-opacity="0.32" stroke="#00e818" stroke-width="8.0" stroke-linejoin="round"/>
<path d="M1837.4 1043.1Q1846.9 1047.3 1850.3 1059.3Q1846.9 1071.2 1837.4 1075.5Q1827.8 1071.2 1824.5 1059.3Q1827.8 1047.3 1837.4 1043.1Z" fill="#10ff80" fill-opacity="0.32" stroke="#00e818" stroke-width="8.0" stroke-linejoin="round"/>
<path d="M1857.7 1043.4Q1867.3 1047.6 1870.6 1059.6Q1867.3 1071.6 1857.7 1075.8Q1848.2 1071.6 1844.8 1059.6Q1848.2 1047.6 1857.7 1043.4Z" fill="#10ff80" fill-opacity="0.32" stroke="#00e818" stroke-width="8.0" stroke-linejoin="round"/>
<path d="M1878.1 1043.7Q1887.6 1047.9 1891.0 1059.9Q1887.6 1071.9 1878.1 1076.1Q1868.6 1071.9 1865.2 1059.9Q1868.6 1047.9 1878.1 1043.7Z" fill="#10ff80" fill-opacity="0.32" stroke="#00e818" stroke-width="8.0" stroke-linejoin="round"/>
<path d="M1898.5 1044.0Q1908.0 1048.2 1911.4 1060.2Q1908.0 1072.2 1898.5 1076.4Q1888.9 1072.2 1885.6 1060.2Q1888.9 1048.2 1898.5 1044.0Z" fill="#10ff80" fill-opacity="0.32" stroke="#00e818" stroke-width="8.0" stroke-linejoin="round"/>
<path d="M1918.8 1044.2Q1928.4 1048.5 1931.7 1060.4Q1928.4 1072.4 1918.8 1076.6Q1909.3 1072.4 1905.9 1060.4Q1909.3 1048.5 1918.8 1044.2Z" fill="#10ff80" fill-opacity="0.32" stroke="#00e818" stroke-width="8.0" stroke-linejoin="round"/>
<path d="M1939.2 1044.5Q1948.7 1048.7 1952.1 1060.7Q1948.7 1072.7 1939.2 1076.9Q1929.6 1072.7 1926.3 1060.7Q1929.6 1048.7 1939.2 1044.5Z" fill="#10ff80" fill-opacity="0.32" stroke="#00e818" stroke-width="8.0" stroke-linejoin="round"/>
<path d="M1959.6 1044.7Q1969.1 1048.9 1972.5 1060.9Q1969.1 1072.9 1959.6 1077.1Q1950.0 1072.9 1946.7 1060.9Q1950.0 1048.9 1959.6 1044.7Z" fill="#10ff80" fill-opacity="0.32" stroke="#00e818" stroke-width="8.0" stroke-linejoin="round"/>
<path d="M1979.9 1045.0Q1989.5 1049.2 1992.8 1061.2Q1989.5 1073.1 1979.9 1077.4Q1970.4 1073.1 1967.0 1061.2Q1970.4 1049.2 1979.9 1045.0Z" fill="#10ff80" fill-opacity="0.32" stroke="#00e818" stroke-width="8.0" stroke-linejoin="round"/>
<path d="M2000.3 1045.2Q2009.8 1049.4 2013.2 1061.4Q2009.8 1073.3 2000.3 1077.6Q1990.7 1073.3 1987.4 1061.4Q1990.7 1049.4 2000.3 1045.2Z" fill="#10ff80" fill-opacity="0.32" stroke="#00e818" stroke-width="8.0" stroke-linejoin="round"/>
<path d="M2020.6 1045.3Q2030.2 1049.6 2033.5 1061.5Q2030.2 1073.5 2020.6 1077.7Q2011.1 1073.5 2007.7 1061.5Q2011.1 1049.6 2020.6 1045.3Z" fill="#10ff80" fill-opacity="0.32" stroke="#00e818" stroke-width="8.0" stroke-linejoin="round"/>
<path d="M2041.0 1045.5Q2050.6 1049.7 2053.9 1061.7Q2050.6 1073.7 2041.0 1077.9Q2031.5 1073.7 2028.1 1061.7Q2031.5 1049.7 2041.0 1045.5Z" fill="#10ff80" fill-opacity="0.32" stroke="#00e818" stroke-width="8.0" stroke-linejoin="round"/>
<path d="M2061.4 1045.7Q2070.9 1049.9 2074.3 1061.9Q2070.9 1073.9 2061.4 1078.1Q2051.8 1073.9 2048.5 1061.9Q2051.8 1049.9 2061.4 1045.7Z" fill="#10ff80" fill-opacity="0.32" stroke="#00e818" stroke-width="8.0" stroke-linejoin="round"/>
<path d="M2081.7 1045.8Q2091.3 1050.1 2094.6 1062.0Q2091.3 1074.0 2081.7 1078.2Q2072.2 1074.0 2068.8 1062.0Q2072.2 1050.1 2081.7 1045.8Z" fill="#10ff80" fill-opacity="0.32" stroke="#00e818" stroke-width="8.0" stroke-linejoin="round"/>
<path d="M2102.1 1046.0Q2111.6 1050.2 2115.0 1062.2Q2111.6 1074.2 2102.1 1078.4Q2092.6 1074.2 2089.2 1062.2Q2092.6 1050.2 2102.1 1046.0Z" fill="#10ff80" fill-opacity="0.32" stroke="#00e818" stroke-width="8.0" stroke-linejoin="round"/>
<path d="M2122.5 1046.1Q2132.0 1050.3 2135.4 1062.3Q2132.0 1074.3 2122.5 1078.5Q2112.9 1074.3 2109.6 1062.3Q2112.9 1050.3 2122.5 1046.1Z" fill="#10ff80" fill-opacity="0.32" stroke="#00e818" stroke-width="8.0" stroke-linejoin="round"/>
<path d="M2142.8 1046.2Q2152.4 1050.5 2155.7 1062.4Q2152.4 1074.4 2142.8 1078.6Q2133.3 1074.4 2129.9 1062.4Q2133.3 1050.5 2142.8 1046.2Z" fill="#10ff80" fill-opacity="0.32" stroke="#00e818" stroke-width="8.0" stroke-linejoin="round"/>
<path d="M2163.2 1046.4Q2172.7 1050.6 2176.1 1062.6Q2172.7 1074.5 2163.2 1078.8Q2153.6 1074.5 2150.3 1062.6Q2153.6 1050.6 2163.2 1046.4Z" fill="#10ff80" fill-opacity="0.32" stroke="#00e818" stroke-width="8.0" stroke-linejoin="round"/>
<path d="M2183.5 1046.5Q2193.1 1050.7 2196.4 1062.7Q2193.1 1074.7 2183.5 1078.9Q2174.0 1074.7 2170.6 1062.7Q2174.0 1050.7 2183.5 1046.5Z" fill="#10ff80" fill-opacity="0.32" stroke="#00e818" stroke-width="8.0" stroke-linejoin="round"/>
<path d="M2203.9 1046.6Q2213.5 1050.8 2216.8 1062.8Q2213.5 1074.7 2203.9 1079.0Q2194.4 1074.7 2191.0 1062.8Q2194.4 1050.8 2203.9 1046.6Z" fill="#10ff80" fill-opacity="0.32" stroke="#00e818" stroke-width="8.0" stroke-linejoin="round"/>
<path d="M2224.3 1046.7Q2233.8 1050.9 2237.2 1062.9Q2233.8 1074.8 2224.3 1079.1Q2214.7 1074.8 2211.4 1062.9Q2214.7 1050.9 2224.3 1046.7Z" fill="#10ff80" fill-opacity="0.32" stroke="#00e818" stroke-width="8.0" stroke-linejoin="round"/>
<path d="M2244.6 1046.7Q2254.2 1051.0 2257.5 1062.9Q2254.2 1074.9 2244.6 1079.1Q2235.1 1074.9 2231.7 1062.9Q2235.1 1051.0 2244.6 1046.7Z" fill="#10ff80" fill-opacity="0.32" stroke="#00e818" stroke-width="8.0" stroke-linejoin="round"/>
<path d="M2265.0 1046.8Q2274.5 1051.0 2277.9 1063.0Q2274.5 1075.0 2265.0 1079.2Q2255.5 1075.0 2252.1 1063.0Q2255.5 1051.0 2265.0 1046.8Z" fill="#10ff80" fill-opacity="0.32" stroke="#00e818" stroke-width="8.0" stroke-linejoin="round"/>
<path d="M2285.4 1046.9Q2294.9 1051.1 2298.3 1063.1Q2294.9 1075.1 2285.4 1079.3Q2275.8 1075.1 2272.5 1063.1Q2275.8 1051.1 2285.4 1046.9Z" fill="#10ff80" fill-opacity="0.32" stroke="#00e818" stroke-width="8.0" stroke-linejoin="round"/>
<polyline points="249.1,1063.5 269.4,923.9 289.8,846.5 310.2,785.3 330.5,752.1 350.9,726.0 371.2,709.4 391.6,698.9 412.0,693.8 432.3,693.8 452.7,696.4 473.1,701.4 493.4,709.9 513.8,719.9 534.1,731.0 554.5,743.2 574.9,756.1 595.2,769.4 615.6,782.9 636.0,796.3 656.3,809.4 676.7,822.3 697.0,834.8 717.4,846.9 737.8,858.6 758.1,869.8 778.5,880.6 798.9,891.0 819.2,901.0 839.6,910.8 860.0,920.6 880.3,929.9 900.7,938.4 921.0,946.3 941.4,953.6 961.8,960.5 982.1,967.0 1002.5,973.2 1022.9,979.1 1043.2,984.8 1063.6,990.2 1083.9,995.4 1104.3,1000.2 1124.7,1004.7 1145.0,1008.9 1165.4,1012.7 1185.8,1016.3 1206.1,1019.7 1226.5,1022.8 1246.8,1025.7 1267.2,1028.5 1287.6,1031.1 1307.9,1033.5 1328.3,1035.7 1348.7,1037.8 1369.0,1039.7 1389.4,1041.5 1409.8,1043.1 1430.1,1044.6 1450.5,1045.9 1470.8,1047.1 1491.2,1048.2 1511.6,1049.2 1531.9,1050.1 1552.3,1051.0 1572.7,1051.7 1593.0,1052.5 1613.4,1053.2 1633.7,1053.8 1654.1,1054.5 1674.5,1055.1 1694.8,1055.6 1715.2,1056.1 1735.6,1056.6 1755.9,1057.1 1776.3,1057.5 1796.7,1057.9 1817.0,1058.3 1837.4,1058.7 1857.7,1059.0 1878.1,1059.3 1898.5,1059.6 1918.8,1059.8 1939.2,1060.1 1959.6,1060.3 1979.9,1060.6 2000.3,1060.8 2020.6,1060.9 2041.0,1061.1 2061.4,1061.3 2081.7,1061.4 2102.1,1061.6 2122.5,1061.7 2142.8,1061.8 2163.2,1062.0 2183.5,1062.1 2203.9,1062.2 2224.3,1062.3 2244.6,1062.3 2265.0,1062.4 2285.4,1062.5" fill="none" stroke="#00e818" stroke-width="6.4" stroke-linejoin="round"/>
</g>
<g filter="url(#soft)">
<rect x="1709.5" y="77" width="621" height="191" fill="#c4c4c4"/>
<rect x="1708.2" y="75.6" width="619.4" height="190.4" fill="#ffffff" stroke="#747474" stroke-width="2.4"/>
<circle cx="1747.7" cy="110.0" r="13.3" fill="#ff5050" fill-opacity="0.10" stroke="#e41616" stroke-width="5.7"/>
<line x1="1716" y1="110.0" x2="1780" y2="110.0" stroke="#e41616" stroke-width="5.4"/>
<text class="leg" transform="translate(1781.5,129.5) scale(1,1.06)">Histogram of superpixel</text>
<rect x="1736.7" y="160.0" width="22.0" height="22.0" fill="#5050ff" fill-opacity="0.16" stroke="#0e0ec2" stroke-width="5.6"/>
<line x1="1716" y1="171.0" x2="1780" y2="171.0" stroke="#0e0ec2" stroke-width="5.4"/>
<text class="leg" transform="translate(1781.5,190.5) scale(1,1.06)">Histogram of sea</text>
<path d="M1747.7 215.8Q1757.2 220.0 1760.6 232.0Q1757.2 244.0 1747.7 248.2Q1738.2 244.0 1734.8 232.0Q1738.2 220.0 1747.7 215.8Z" fill="#10ff80" fill-opacity="0.32" stroke="#00e818" stroke-width="8.0" stroke-linejoin="round"/>
<line x1="1716" y1="232.0" x2="1780" y2="232.0" stroke="#00e818" stroke-width="5.4"/>
<text class="leg" transform="translate(1781.5,251.5) scale(1,1.06)">Histogram of land</text>
</g>
<g filter="url(#soft)" clip-path="url(#figclip)">
<text class="tick" transform="translate(228.5,1133) scale(1.03,1)" text-anchor="middle">0</text>
<text class="tick" transform="translate(427.4,1133) scale(1.03,1)" text-anchor="middle">0.1</text>
<text class="tick" transform="translate(635.0,1133) scale(1.03,1)" text-anchor="middle">0.2</text>
<text class="tick" transform="translate(838.6,1133) scale(1.03,1)" text-anchor="middle">0.3</text>
<text class="tick" transform="translate(1042.1,1133) scale(1.03,1)" text-anchor="middle">0.4</text>
<text class="tick" transform="translate(1245.7,1133) scale(1.03,1)" text-anchor="middle">0.5</text>
<text class="tick" transform="translate(1449.2,1133) scale(1.03,1)" text-anchor="middle">0.6</text>
<text class="tick" transform="translate(1652.8,1133) scale(1.03,1)" text-anchor="middle">0.7</text>
<text class="tick" transform="translate(1856.3,1133) scale(1.03,1)" text-anchor="middle">0.8</text>
<text class="tick" transform="translate(2059.8,1133) scale(1.03,1)" text-anchor="middle">0.9</text>
<text class="tick" transform="translate(2261.2,1133) scale(0.8,1)" text-anchor="middle">1</text>
<text class="tick" transform="translate(211.8,1084.3) scale(1.03,1)" text-anchor="end">0</text>
<text class="tick" transform="translate(213.8,883.4) scale(1.03,1)" text-anchor="end">0.02</text>
<text class="tick" transform="translate(213.8,682.5) scale(1.03,1)" text-anchor="end">0.04</text>
<text class="tick" transform="translate(213.8,481.6) scale(1.03,1)" text-anchor="end">0.06</text>
<text class="tick" transform="translate(213.8,280.7) scale(1.03,1)" text-anchor="end">0.08</text>
<text class="tick" transform="translate(208.2,79.8) scale(1.03,1)" text-anchor="end">0.1</text>
<text class="lab" transform="translate(1286.5,1205.5) scale(1,1.07)" text-anchor="middle">Amplitude</text>
<text class="lab" transform="translate(82.7,559.3) rotate(-90) scale(1,1.07)" text-anchor="middle">PDF</text>
</g>
</svg></body></html>
